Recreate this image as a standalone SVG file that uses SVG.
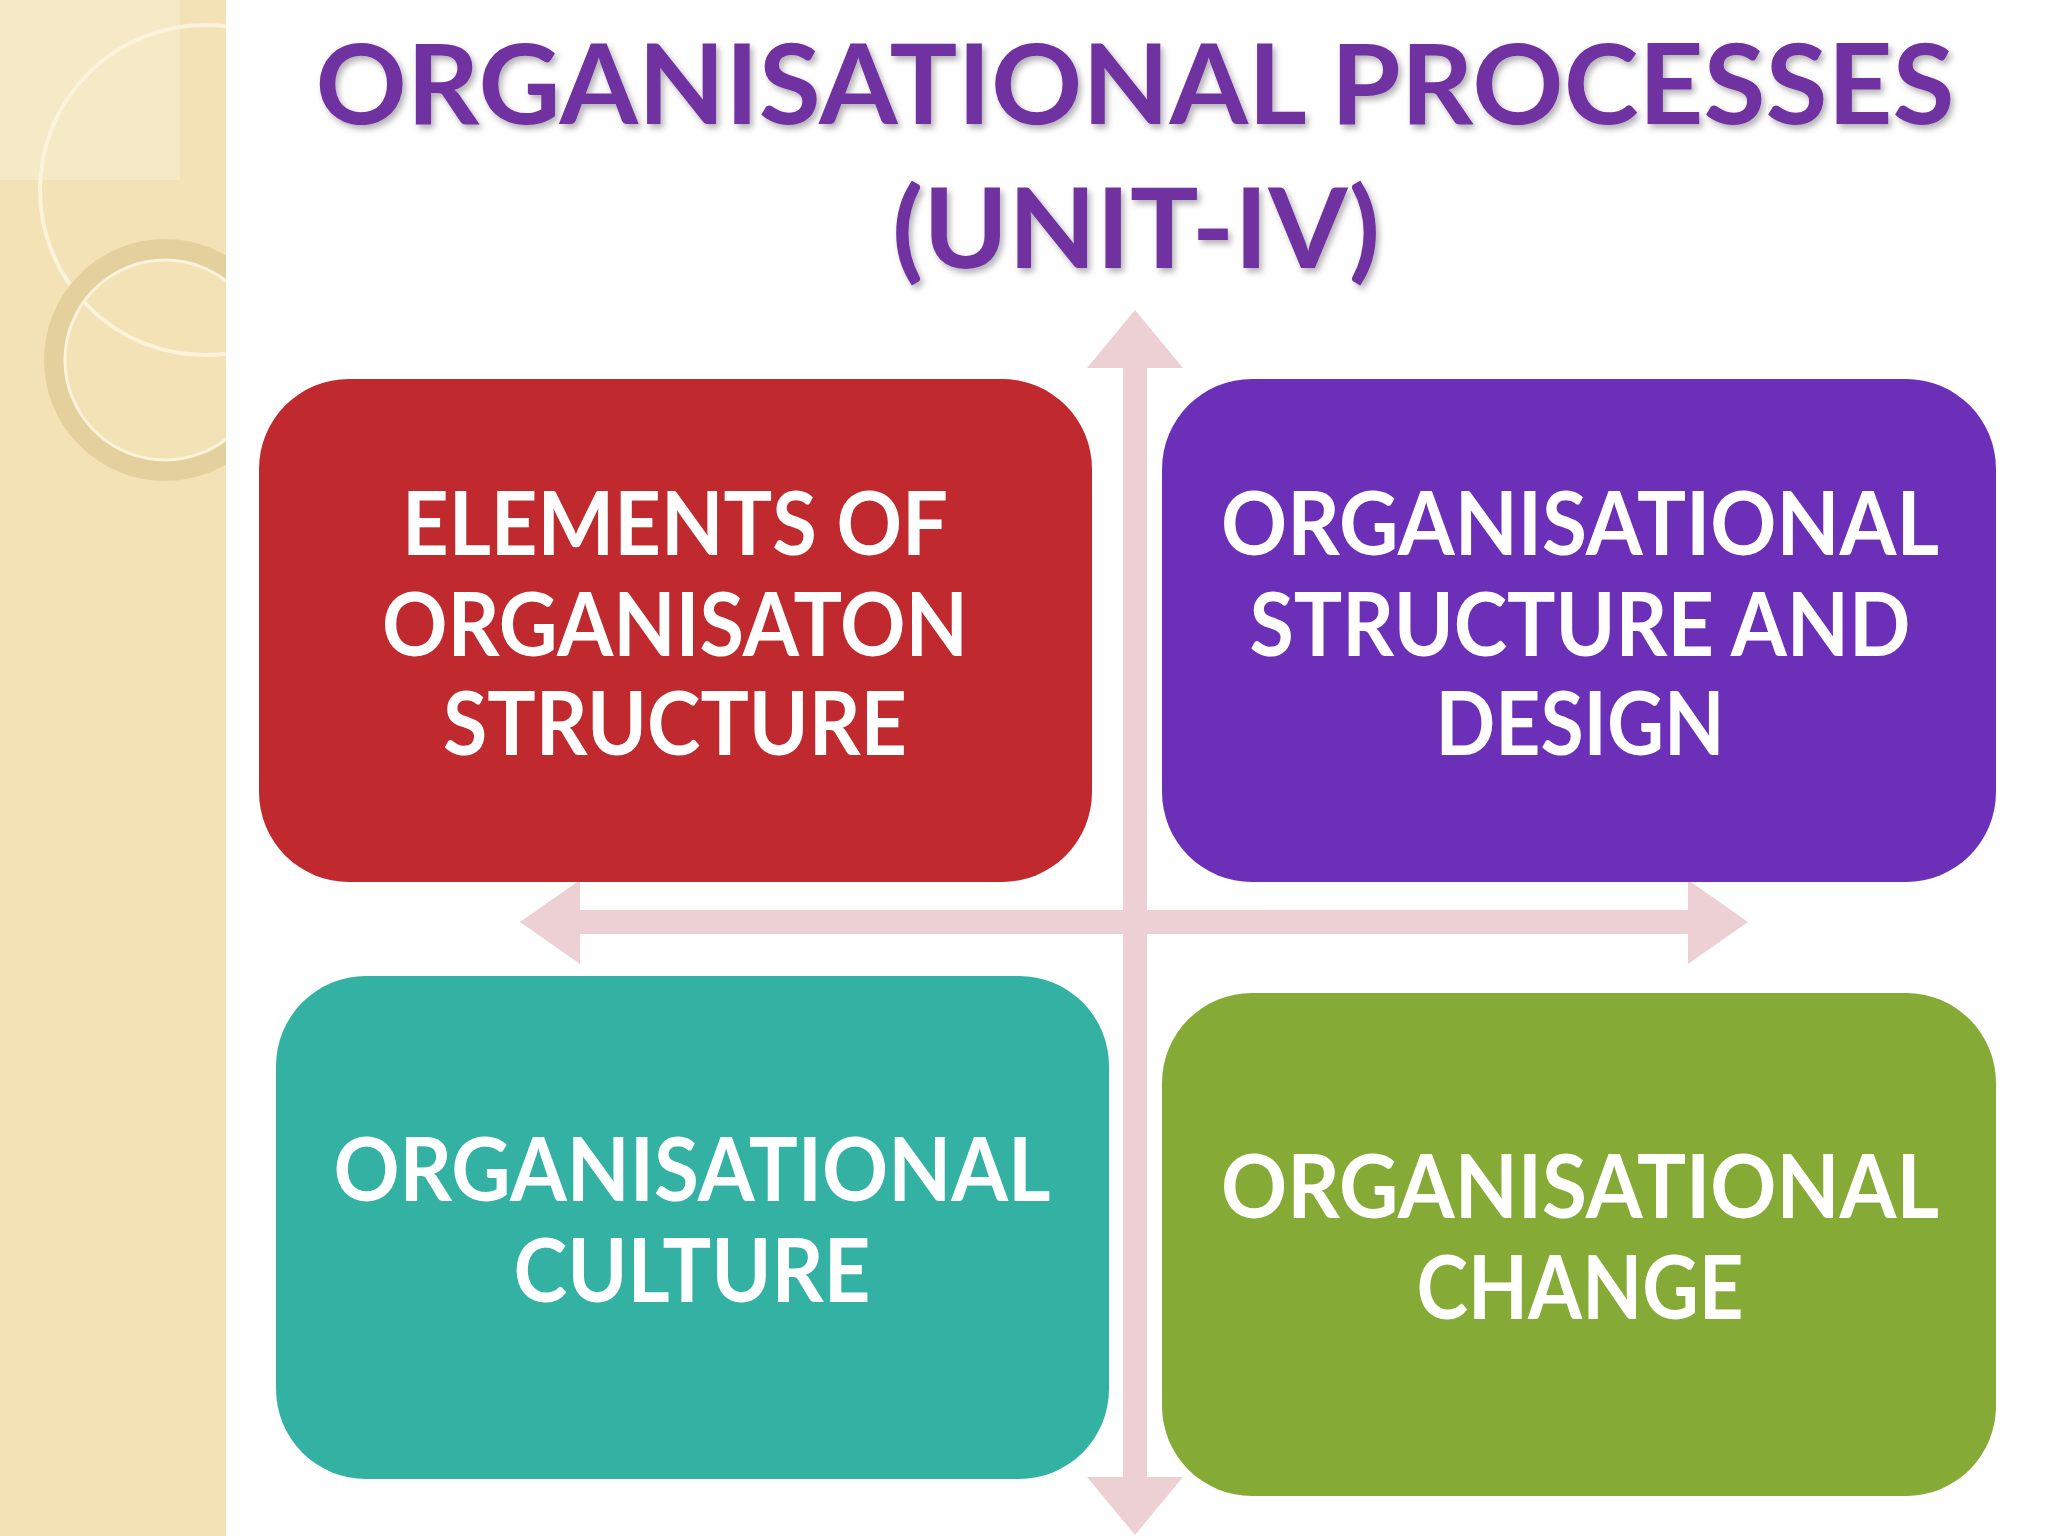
<svg xmlns="http://www.w3.org/2000/svg" width="2048" height="1536" viewBox="0 0 2048 1536">
<defs>
<style>
.t{font-family:Lato,"Open Sans",sans-serif;font-weight:bold;fill:#fff;text-anchor:middle;font-size:88px}
.h{font-family:Lato,"Open Sans",sans-serif;font-weight:bold;fill:#7030a0;text-anchor:middle;font-size:112px}
.ar{fill:#ecd0d3}
</style>
<clipPath id="cp"><rect x="0" y="0" width="226" height="1536"/></clipPath>
<filter id="sh"><feDropShadow dx="3" dy="4" stdDeviation="3" flood-color="#000" flood-opacity="0.3"/></filter>
</defs>
<rect width="2048" height="1536" fill="#fff"/>
<g id="sidebar" clip-path="url(#cp)">
<rect x="0" y="0" width="226" height="1536" fill="#f3e2b6"/>
<rect x="0" y="0" width="180" height="180" fill="#f6e9c6"/>
<circle cx="205" cy="190" r="165" fill="none" stroke="#fbf3dc" stroke-width="4"/>
<circle cx="165" cy="360" r="110" fill="none" stroke="#e4d09c" stroke-width="22"/>
<circle cx="165" cy="360" r="100" fill="none" stroke="#fbf3dc" stroke-width="3"/>
</g>
<g id="title" filter="url(#sh)">
<text class="h" x="1135" y="124" textLength="1639" lengthAdjust="spacingAndGlyphs">ORGANISATIONAL PROCESSES</text>
<text class="h" x="1136" y="268" textLength="488" lengthAdjust="spacingAndGlyphs">(UNIT-IV)</text>
</g>
<g id="connectors">
<rect class="ar" x="1123" y="360" width="24" height="1126"/>
<polygon class="ar" points="1135,310 1087,368 1183,368"/>
<polygon class="ar" points="1135,1535 1087,1477 1183,1477"/>
<rect class="ar" x="575" y="910" width="1118" height="24"/>
<polygon class="ar" points="520,922 580,880 580,964"/>
<polygon class="ar" points="1748,922 1688,880 1688,964"/>
</g>
<g id="n1">
<rect x="259" y="379" width="833" height="503" rx="90" fill="#c0292d"/>
<text class="t" x="675" y="555" textLength="546" lengthAdjust="spacingAndGlyphs">ELEMENTS OF</text>
<text class="t" x="675" y="656" textLength="586" lengthAdjust="spacingAndGlyphs">ORGANISATON</text>
<text class="t" x="675" y="755" textLength="464" lengthAdjust="spacingAndGlyphs">STRUCTURE</text>
</g>
<g id="n2">
<rect x="1162" y="379" width="834" height="503" rx="90" fill="#6b2fb8"/>
<text class="t" x="1580" y="555" textLength="718" lengthAdjust="spacingAndGlyphs">ORGANISATIONAL</text>
<text class="t" x="1580" y="656" textLength="661" lengthAdjust="spacingAndGlyphs">STRUCTURE AND</text>
<text class="t" x="1580" y="755" textLength="289" lengthAdjust="spacingAndGlyphs">DESIGN</text>
</g>
<g id="n3">
<rect x="276" y="976" width="833" height="503" rx="90" fill="#33b2a3"/>
<text class="t" x="692" y="1201" textLength="717" lengthAdjust="spacingAndGlyphs">ORGANISATIONAL</text>
<text class="t" x="692" y="1302" textLength="357" lengthAdjust="spacingAndGlyphs">CULTURE</text>
</g>
<g id="n4">
<rect x="1162" y="993" width="834" height="503" rx="90" fill="#86aa36"/>
<text class="t" x="1580" y="1218" textLength="718" lengthAdjust="spacingAndGlyphs">ORGANISATIONAL</text>
<text class="t" x="1580" y="1319" textLength="327" lengthAdjust="spacingAndGlyphs">CHANGE</text>
</g>
</svg>
